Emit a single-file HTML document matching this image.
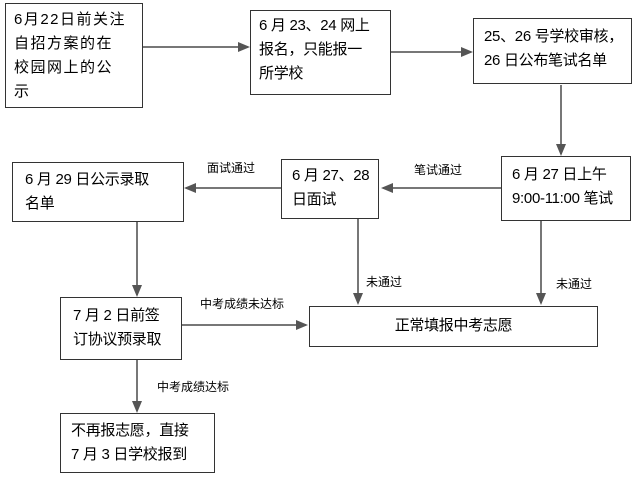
<!DOCTYPE html>
<html><head><meta charset="utf-8"><style>
body{margin:0;width:640px;height:483px;background:#fff;position:relative;overflow:hidden;font-family:"Liberation Sans","Noto Sans CJK SC",sans-serif;color:#000}
.b{position:absolute;border:1.5px solid #333;box-sizing:border-box;font-size:15px;line-height:24px;padding:3px 8px;background:#fff;white-space:nowrap;letter-spacing:-0.3px}
.l{position:absolute;font-size:12px;white-space:nowrap}
svg{position:absolute;left:0;top:0}
</style></head><body>
<svg width="640" height="483">
<defs><marker id="a" markerWidth="6" markerHeight="6" refX="5" refY="3" orient="auto"><path d="M0,0.5 L6,3 L0,5.5z" fill="#555"/></marker></defs>
<g stroke="#777" stroke-width="2" fill="none" marker-end="url(#a)">
<line x1="143" y1="47" x2="248" y2="47"/>
<line x1="391" y1="52" x2="471" y2="52"/>
<line x1="561" y1="85" x2="561" y2="154"/>
<line x1="501" y1="188" x2="383" y2="188"/>
<line x1="281" y1="188" x2="186" y2="188"/>
<line x1="137" y1="222" x2="137" y2="295"/>
<line x1="358" y1="219" x2="358" y2="303"/>
<line x1="541" y1="221" x2="541" y2="303"/>
<line x1="182" y1="325" x2="306" y2="325"/>
<line x1="137" y1="360" x2="137" y2="411"/>
</g></svg>
<div class="b" style="left:5px;top:3px;width:138px;height:105px;padding-top:4px;letter-spacing:1.5px">6月22日前关注<br>自招方案的在<br>校园网上的公<br>示</div>
<div class="b" style="left:250px;top:10px;width:141px;height:85px">6 月 23、24 网上<br>报名，只能报一<br>所学校</div>
<div class="b" style="left:473px;top:18px;width:159px;height:66px;padding:6px 6px 0 10px">25、26 号学校审核，<br>26 日公布笔试名单</div>
<div class="b" style="left:501px;top:156px;width:130px;height:65px;padding:6px 6px 0 10px">6 月 27 日上午<br>9:00-11:00 笔试</div>
<div class="b" style="left:281px;top:159px;width:98px;height:60px;padding:4px 6px 0 10px">6 月 27、28<br>日面试</div>
<div class="b" style="left:12px;top:162px;width:172px;height:60px;padding:5px 8px 0 12px">6 月 29 日公示录取<br>名单</div>
<div class="b" style="left:60px;top:297px;width:122px;height:63px;padding:6px 6px 0 12px">7 月 2 日前签<br>订协议预录取</div>
<div class="b" style="left:309px;top:306px;width:289px;height:41px;text-align:center;padding-top:7px">正常填报中考志愿</div>
<div class="b" style="left:60px;top:413px;width:155px;height:60px;padding:5px 6px 0 10px">不再报志愿，直接<br>7 月 3 日学校报到</div>
<div class="l" style="left:207px;top:159px">面试通过</div>
<div class="l" style="left:414px;top:161px">笔试通过</div>
<div class="l" style="left:366px;top:273px">未通过</div>
<div class="l" style="left:556px;top:275px">未通过</div>
<div class="l" style="left:200px;top:295px">中考成绩未达标</div>
<div class="l" style="left:157px;top:378px">中考成绩达标</div>
</body></html>
